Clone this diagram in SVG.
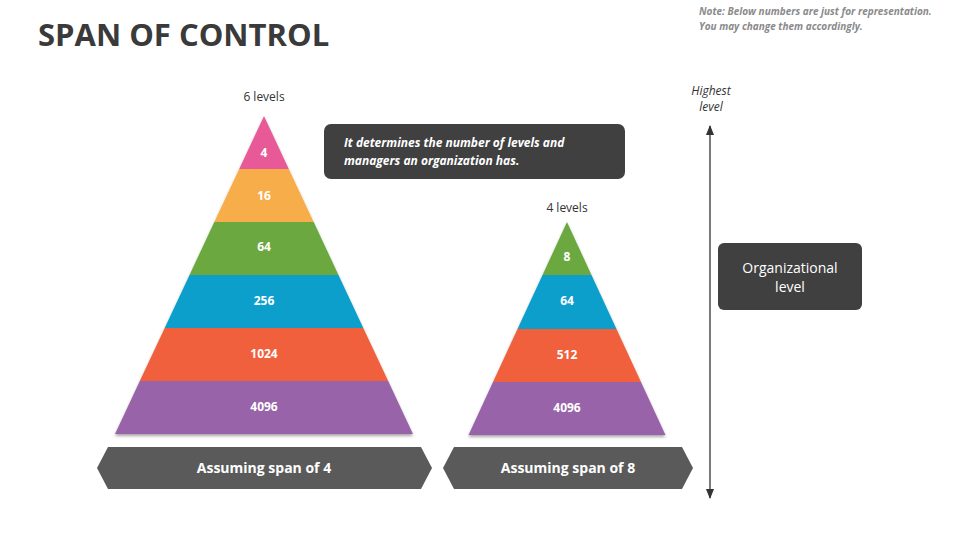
<svg xmlns="http://www.w3.org/2000/svg" width="960" height="540" viewBox="0 0 960 540">
<style>
.n{font-family:"Open Sans","Liberation Sans",sans-serif;font-size:12px;font-weight:bold;fill:#fff;text-anchor:middle}
.b{font-family:"Open Sans","Liberation Sans",sans-serif;font-size:14px;font-weight:bold;fill:#fff;text-anchor:middle}
.l{font-family:"Open Sans","Liberation Sans",sans-serif;font-size:12px;fill:#333;text-anchor:middle}
.i{font-family:"Open Sans","Liberation Sans",sans-serif;font-size:12px;font-style:italic;fill:#333;text-anchor:middle}
</style>
<defs>
<marker id="a" viewBox="0 0 10 10" refX="9" refY="5" markerWidth="8" markerHeight="8" orient="auto-start-reverse"><path d="M0,1 L10,5 L0,9 z" fill="#333"/></marker>
<filter id="s" x="-10%" y="-10%" width="120%" height="130%"><feDropShadow dx="0" dy="2" stdDeviation="1.5" flood-opacity="0.35"/></filter>
</defs>
<rect width="960" height="540" fill="#fff"/>
<text x="38" y="46" font-family="'Open Sans','Liberation Sans',sans-serif" font-size="31" font-weight="bold" fill="#3a3a3a">SPAN OF CONTROL</text>
<text x="699" y="15" font-family="'Open Sans','Liberation Sans',sans-serif" font-size="10" font-weight="bold" font-style="italic" fill="#8a8a8a">Note: Below numbers are just for representation.</text>
<text x="699" y="30" font-family="'Open Sans','Liberation Sans',sans-serif" font-size="10" font-weight="bold" font-style="italic" fill="#8a8a8a">You may change them accordingly.</text>

<g id="left-pyramid">
<text class="l" x="264" y="101">6 levels</text>
<g filter="url(#s)">
<polygon points="264,116 288.8,169 239.2,169" fill="#e85a97"/>
<polygon points="239.2,169 288.8,169 313.7,222 214.3,222" fill="#f8ad4b"/>
<polygon points="214.3,222 313.7,222 338.5,275 189.5,275" fill="#6ca841"/>
<polygon points="189.5,275 338.5,275 363.3,328 164.7,328" fill="#0c9fcc"/>
<polygon points="164.7,328 363.3,328 388.2,381 139.8,381" fill="#f0603c"/>
<polygon points="139.8,381 388.2,381 413,434 115,434" fill="#9864a9"/>
</g>
<text class="n" x="264" y="157">4</text>
<text class="n" x="264" y="200">16</text>
<text class="n" x="264" y="251">64</text>
<text class="n" x="264" y="305">256</text>
<text class="n" x="264" y="358">1024</text>
<text class="n" x="264" y="411">4096</text>
</g>

<g id="right-pyramid">
<text class="l" x="567" y="212">4 levels</text>
<g filter="url(#s)">
<polygon points="567,222 591.5,275 542.5,275" fill="#6ca841"/>
<polygon points="542.5,275 591.5,275 616.5,329 517.5,329" fill="#0c9fcc"/>
<polygon points="517.5,329 616.5,329 641,382 493,382" fill="#f0603c"/>
<polygon points="493,382 641,382 665.5,435 468.5,435" fill="#9864a9"/>
</g>
<text class="n" x="567" y="261">8</text>
<text class="n" x="567" y="305">64</text>
<text class="n" x="567" y="359">512</text>
<text class="n" x="567" y="412">4096</text>
</g>

<g id="note-box">
<rect x="324" y="124" width="301" height="55" rx="7" fill="#404040"/>
<text x="344" y="147" font-family="'Open Sans','Liberation Sans',sans-serif" font-size="12" font-weight="bold" font-style="italic" fill="#fff">It determines the number of levels and</text>
<text x="344" y="165" font-family="'Open Sans','Liberation Sans',sans-serif" font-size="12" font-weight="bold" font-style="italic" fill="#fff">managers an organization has.</text>
</g>

<g id="banner-left">
<polygon points="108,447 421,447 432,468 421,489 108,489 97,468" fill="#5a5a5a"/>
<text class="b" x="264" y="473">Assuming span of 4</text>
</g>
<g id="banner-right">
<polygon points="454,447 682,447 693,468 682,489 454,489 443,468" fill="#5a5a5a"/>
<text class="b" x="568" y="473">Assuming span of 8</text>
</g>

<g id="org-level">
<text class="i" x="711" y="95">Highest</text>
<text class="i" x="711" y="111">level</text>
<rect x="718" y="243" width="144" height="67" rx="6" fill="#404040"/>
<text x="790" y="273" font-family="'Open Sans','Liberation Sans',sans-serif" font-size="14" fill="#fff" text-anchor="middle">Organizational</text>
<text x="790" y="292" font-family="'Open Sans','Liberation Sans',sans-serif" font-size="14" fill="#fff" text-anchor="middle">level</text>
</g>

<g id="connectors">
<line x1="710" y1="126" x2="710" y2="498" stroke="#333" stroke-width="1.3" marker-start="url(#a)" marker-end="url(#a)"/>
</g>
</svg>
